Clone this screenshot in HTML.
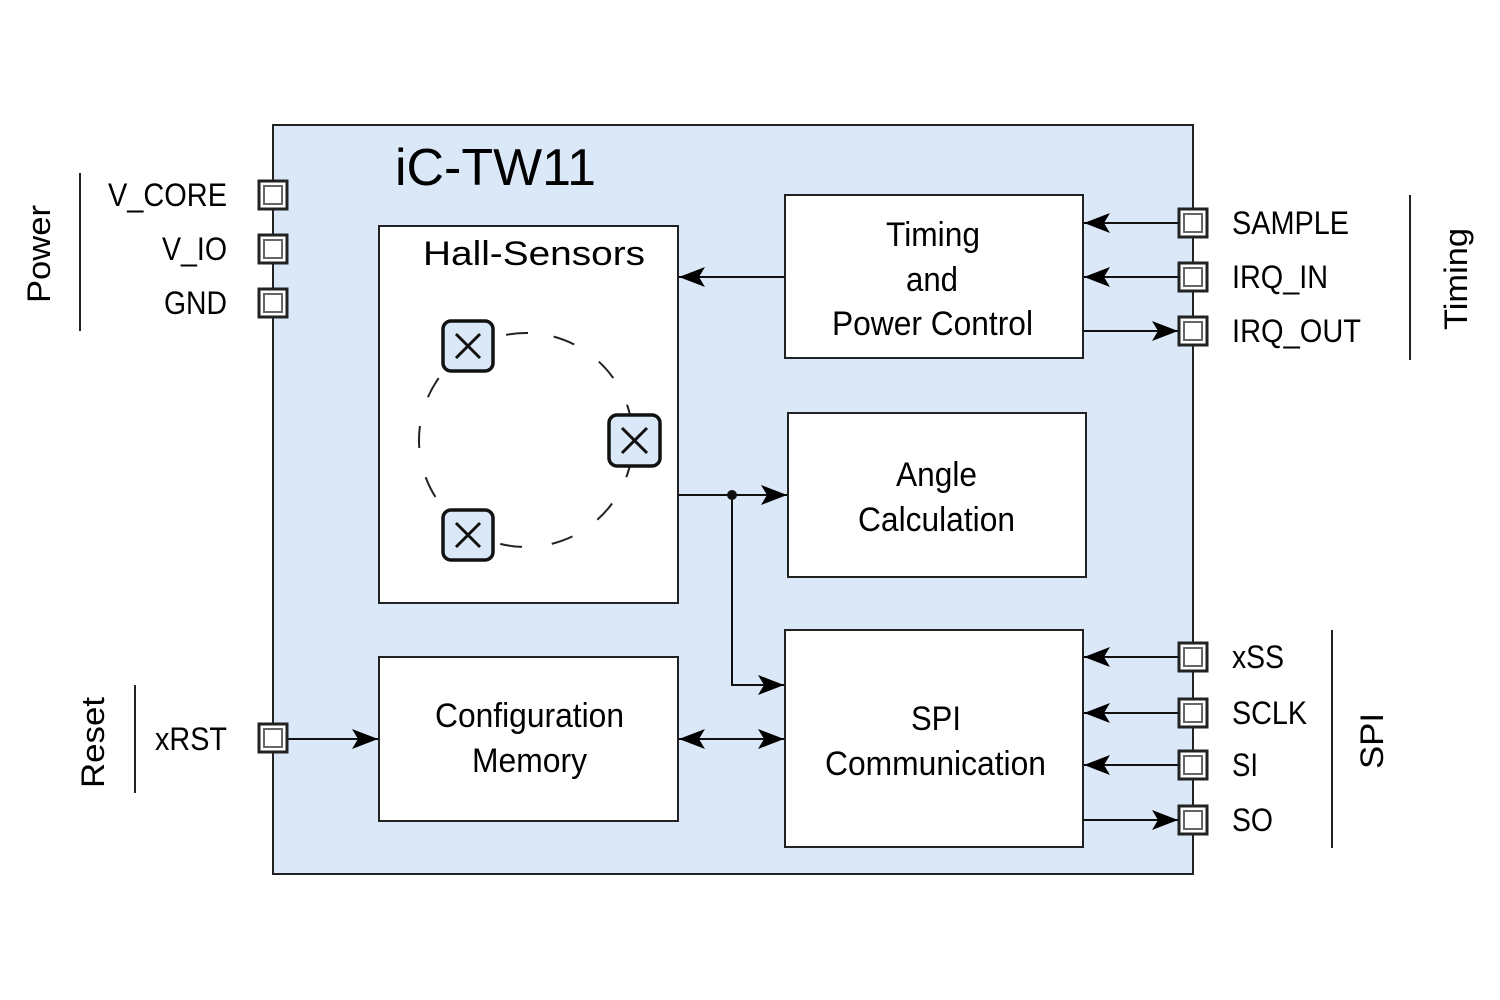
<!DOCTYPE html>
<html><head><meta charset="utf-8"><style>
html,body{margin:0;padding:0;background:#fff;}
svg{display:block;}
text{font-family:"Liberation Sans",sans-serif;fill:#000;}
</style></head><body>
<svg width="1500" height="1000" viewBox="0 0 1500 1000" xmlns="http://www.w3.org/2000/svg">
<defs>
<marker id="ah" markerWidth="26" markerHeight="20" refX="26" refY="10" orient="auto" markerUnits="userSpaceOnUse" viewBox="0 0 26 20">
<path d="M0,0 L26,10 L0,20 L6,10 Z" fill="#000"/>
</marker>
<marker id="ahs" markerWidth="26" markerHeight="20" refX="0" refY="10" orient="auto" markerUnits="userSpaceOnUse" viewBox="0 0 26 20">
<path d="M26,0 L0,10 L26,20 L20,10 Z" fill="#000"/>
</marker>
</defs>
<rect x="273" y="125" width="920" height="749" fill="#dae8f8" stroke="#222" stroke-width="2"/>
<text x="395" y="185" font-size="52" textLength="201" lengthAdjust="spacingAndGlyphs">iC-TW11</text>

<g fill="#fff" stroke="#222" stroke-width="2">
<rect x="379" y="226" width="299" height="377"/>
<rect x="785" y="195" width="298" height="163"/>
<rect x="788" y="413" width="298" height="164"/>
<rect x="379" y="657" width="299" height="164"/>
<rect x="785" y="630" width="298" height="217"/>
</g>
<g font-size="34">
<text x="423" y="265" textLength="222" lengthAdjust="spacingAndGlyphs">Hall-Sensors</text>
<text x="886" y="246" textLength="94" lengthAdjust="spacingAndGlyphs">Timing</text>
<text x="906" y="291" textLength="52" lengthAdjust="spacingAndGlyphs">and</text>
<text x="832" y="335" textLength="201" lengthAdjust="spacingAndGlyphs">Power Control</text>
<text x="896" y="486" textLength="81" lengthAdjust="spacingAndGlyphs">Angle</text>
<text x="858" y="531" textLength="157" lengthAdjust="spacingAndGlyphs">Calculation</text>
<text x="435" y="727" textLength="189" lengthAdjust="spacingAndGlyphs">Configuration</text>
<text x="472" y="772" textLength="115" lengthAdjust="spacingAndGlyphs">Memory</text>
<text x="911" y="730" textLength="50" lengthAdjust="spacingAndGlyphs">SPI</text>
<text x="825" y="775" textLength="221" lengthAdjust="spacingAndGlyphs">Communication</text>
</g>

<circle cx="526" cy="440" r="107" fill="none" stroke="#222" stroke-width="2" stroke-dasharray="22 30" transform="rotate(-75 526 440)"/>
<g stroke="#111" stroke-width="3.5">
<rect x="443" y="321" width="50" height="50" rx="8" fill="#dae8f8"/>
<rect x="609" y="415" width="51" height="51" rx="8" fill="#dae8f8"/>
<rect x="443" y="510" width="50" height="50" rx="8" fill="#dae8f8"/>
<path d="M456,334 L480,358 M480,334 L456,358 M622,428 L647,453 M647,428 L622,453 M456,523 L480,547 M480,523 L456,547" stroke-width="3"/>
</g>

<g stroke="#111" stroke-width="2" fill="none">
<line x1="785" y1="277" x2="679" y2="277" marker-end="url(#ah)"/>
<line x1="1178" y1="223" x2="1084" y2="223" marker-end="url(#ah)"/>
<line x1="1178" y1="277" x2="1084" y2="277" marker-end="url(#ah)"/>
<line x1="1083" y1="331" x2="1178" y2="331" marker-end="url(#ah)"/>
<line x1="678" y1="495" x2="787" y2="495" marker-end="url(#ah)"/>
<polyline points="732,495 732,685 784,685" marker-end="url(#ah)"/>
<line x1="288" y1="739" x2="378" y2="739" marker-end="url(#ah)"/>
<line x1="679" y1="739" x2="784" y2="739" marker-end="url(#ah)" marker-start="url(#ahs)"/>
<line x1="1178" y1="657" x2="1084" y2="657" marker-end="url(#ah)"/>
<line x1="1178" y1="713" x2="1084" y2="713" marker-end="url(#ah)"/>
<line x1="1178" y1="765" x2="1084" y2="765" marker-end="url(#ah)"/>
<line x1="1083" y1="820" x2="1178" y2="820" marker-end="url(#ah)"/>
</g>
<circle cx="732" cy="495" r="5" fill="#111"/>

<g fill="#fff" stroke="#222">
<g stroke-width="3">
<rect x="259" y="181" width="28" height="28"/><rect x="259" y="235" width="28" height="28"/><rect x="259" y="289" width="28" height="28"/><rect x="259" y="724" width="28" height="28"/>
<rect x="1179" y="209" width="28" height="28"/><rect x="1179" y="263" width="28" height="28"/><rect x="1179" y="317" width="28" height="28"/>
<rect x="1179" y="643" width="28" height="28"/><rect x="1179" y="699" width="28" height="28"/><rect x="1179" y="751" width="28" height="28"/><rect x="1179" y="806" width="28" height="28"/>
</g>
<g stroke-width="2" stroke="#666">
<rect x="264" y="186" width="18" height="18"/><rect x="264" y="240" width="18" height="18"/><rect x="264" y="294" width="18" height="18"/><rect x="264" y="729" width="18" height="18"/>
<rect x="1184" y="214" width="18" height="18"/><rect x="1184" y="268" width="18" height="18"/><rect x="1184" y="322" width="18" height="18"/>
<rect x="1184" y="648" width="18" height="18"/><rect x="1184" y="704" width="18" height="18"/><rect x="1184" y="756" width="18" height="18"/><rect x="1184" y="811" width="18" height="18"/>
</g>
</g>

<g font-size="32">
<text x="108" y="206" textLength="119" lengthAdjust="spacingAndGlyphs">V_CORE</text>
<text x="162" y="260" textLength="65" lengthAdjust="spacingAndGlyphs">V_IO</text>
<text x="164" y="314" textLength="63" lengthAdjust="spacingAndGlyphs">GND</text>
<text x="155" y="750" textLength="72" lengthAdjust="spacingAndGlyphs">xRST</text>
<text x="1232" y="234" textLength="117" lengthAdjust="spacingAndGlyphs">SAMPLE</text>
<text x="1232" y="288" textLength="96" lengthAdjust="spacingAndGlyphs">IRQ_IN</text>
<text x="1232" y="342" textLength="129" lengthAdjust="spacingAndGlyphs">IRQ_OUT</text>
<text x="1232" y="668" textLength="52" lengthAdjust="spacingAndGlyphs">xSS</text>
<text x="1232" y="724" textLength="75" lengthAdjust="spacingAndGlyphs">SCLK</text>
<text x="1232" y="776" textLength="26" lengthAdjust="spacingAndGlyphs">SI</text>
<text x="1232" y="831" textLength="41" lengthAdjust="spacingAndGlyphs">SO</text>
</g>

<g stroke="#222" stroke-width="2">
<line x1="80" y1="173" x2="80" y2="331"/>
<line x1="135" y1="685" x2="135" y2="793"/>
<line x1="1410" y1="195" x2="1410" y2="360"/>
<line x1="1332" y1="630" x2="1332" y2="848"/>
</g>
<g font-size="32">
<text transform="translate(50,303) rotate(-90)" textLength="98" lengthAdjust="spacingAndGlyphs">Power</text>
<text transform="translate(104,788) rotate(-90)" textLength="91" lengthAdjust="spacingAndGlyphs">Reset</text>
<text transform="translate(1467,330) rotate(-90)" textLength="102" lengthAdjust="spacingAndGlyphs">Timing</text>
<text transform="translate(1383,769) rotate(-90)" textLength="56" lengthAdjust="spacingAndGlyphs">SPI</text>
</g>
</svg>
</body></html>
